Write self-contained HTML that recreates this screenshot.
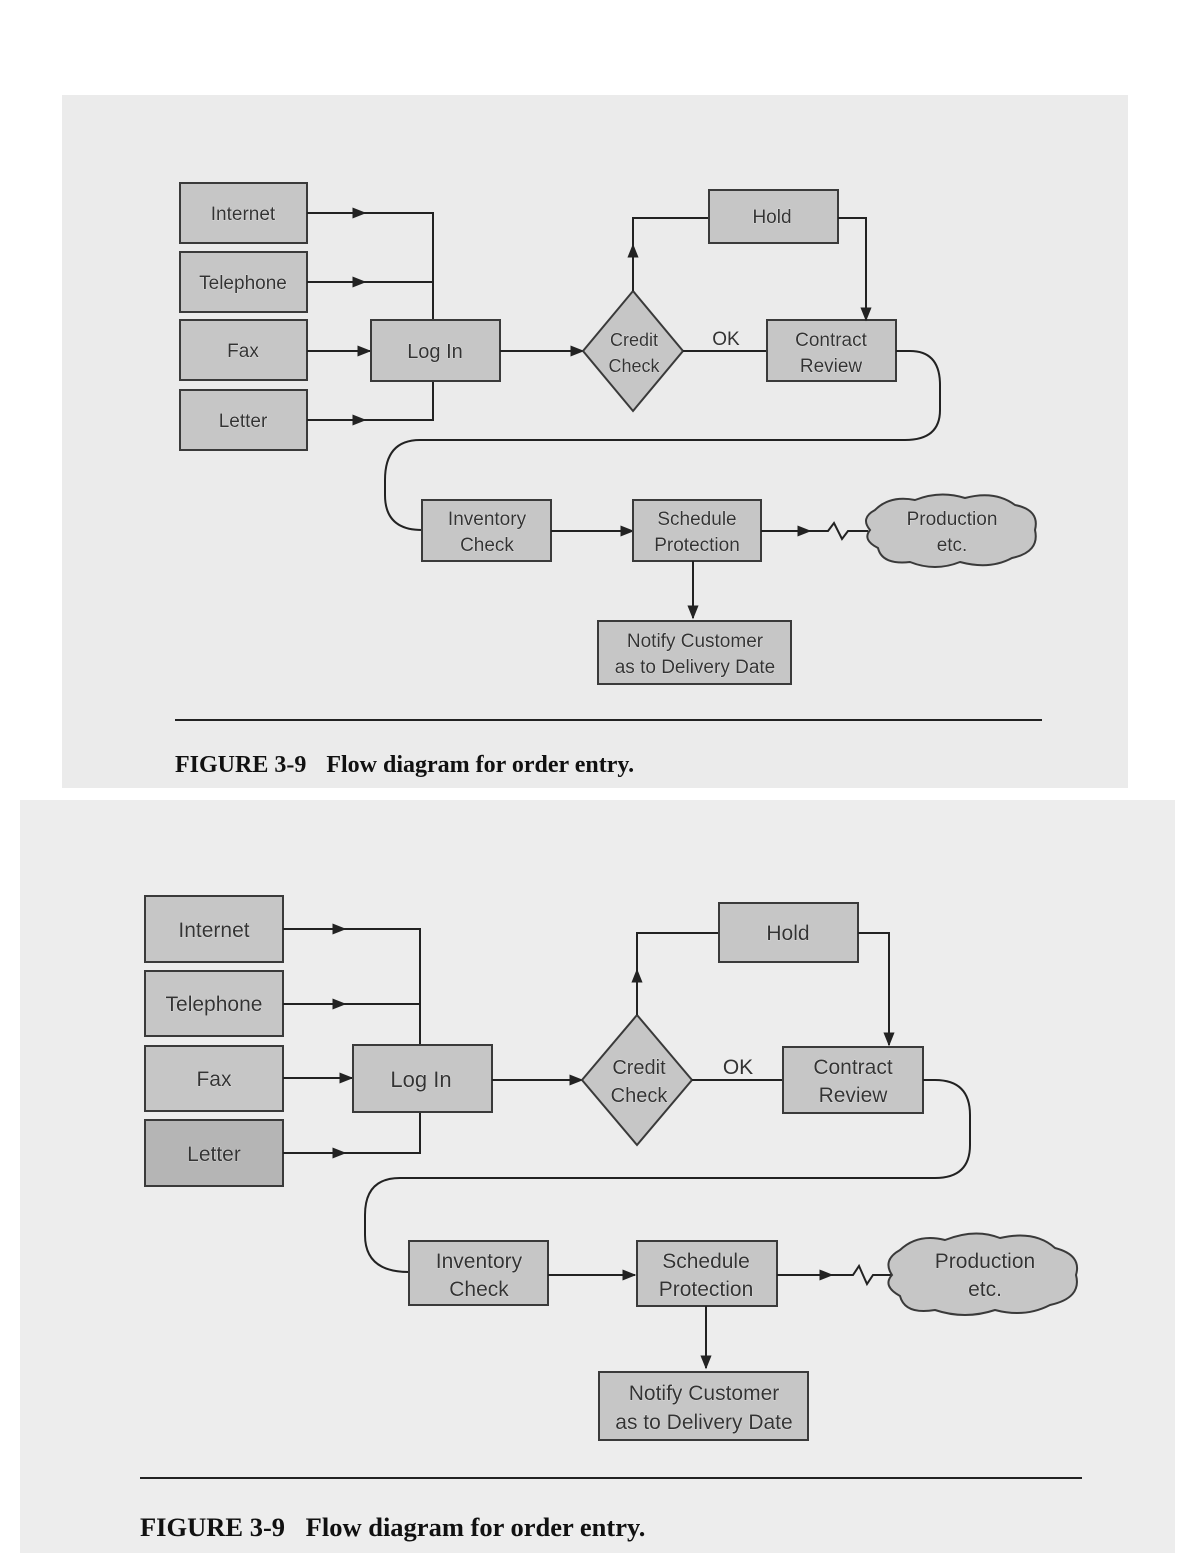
<!DOCTYPE html>
<html><head><meta charset="utf-8"><style>
html,body{margin:0;padding:0;background:#fff;}
svg{display:block;}
.b{fill:#c6c6c6;stroke:#3a3a3a;stroke-width:2;}
.t{font-family:"Liberation Sans",sans-serif;fill:#333;text-anchor:middle;stroke:#eee;stroke-width:0.6px;paint-order:stroke;}
.l{stroke:#222;stroke-width:2;fill:none;}
.cap{font-family:"Liberation Serif",serif;font-weight:bold;fill:#111;}
</style></head><body>
<svg width="1200" height="1553" viewBox="0 0 1200 1553">
<defs>
<marker id="a" viewBox="0 0 10 10" refX="9" refY="5" markerWidth="7" markerHeight="7" orient="auto"><path d="M0,1 L10,5 L0,9 z" fill="#222"/></marker>
</defs>
<rect x="0" y="0" width="1200" height="1553" fill="#fff"/>
<rect x="62" y="95" width="1066" height="693" fill="#ebebeb"/>
<rect x="20" y="800" width="1155" height="753" fill="#ededed"/>

<!-- TOP DIAGRAM -->
<g>
<rect class="b" x="180" y="183" width="127" height="60"/><text class="t" x="243" y="220" font-size="19">Internet</text>
<rect class="b" x="180" y="252" width="127" height="60"/><text class="t" x="243" y="289" font-size="19">Telephone</text>
<rect class="b" x="180" y="320" width="127" height="60"/><text class="t" x="243" y="357" font-size="19">Fax</text>
<rect class="b" x="180" y="390" width="127" height="60"/><text class="t" x="243" y="427" font-size="19">Letter</text>
<path class="l" d="M307 213H433V420H307 M307 282H433 M307 351H370" />
<path class="l" d="M307 213H365" marker-end="url(#a)"/><path class="l" d="M307 282H365" marker-end="url(#a)"/><path class="l" d="M307 351H370" marker-end="url(#a)"/><path class="l" d="M307 420H365" marker-end="url(#a)"/>
<rect class="b" x="371" y="320" width="129" height="61"/><text class="t" x="435" y="358" font-size="20">Log In</text>
<path class="l" d="M500 351H583" marker-end="url(#a)"/>
<polygon class="b" points="633,291 683,351 633,411 583,351"/>
<text class="t" x="634" y="346" font-size="18">Credit</text><text class="t" x="634" y="372" font-size="18">Check</text>
<path class="l" d="M683 351H767"/><text class="t" x="726" y="345" font-size="19">OK</text>
<rect class="b" x="767" y="320" width="129" height="61"/><text class="t" x="831" y="346" font-size="19">Contract</text><text class="t" x="831" y="372" font-size="19">Review</text>
<path class="l" d="M633 291V245" marker-end="url(#a)"/><path class="l" d="M633 250V218H709"/>
<rect class="b" x="709" y="190" width="129" height="53"/><text class="t" x="772" y="223" font-size="19">Hold</text>
<path class="l" d="M838 218H866V320" marker-end="url(#a)"/>
<path class="l" d="M896 351H910Q940 351 940 385V410Q940 440 905 440H420Q385 440 385 480V495Q385 530 422 530"/>
<rect class="b" x="422" y="500" width="129" height="61"/><text class="t" x="487" y="525" font-size="19">Inventory</text><text class="t" x="487" y="551" font-size="19">Check</text>
<path class="l" d="M551 531H633" marker-end="url(#a)"/>
<rect class="b" x="633" y="500" width="128" height="61"/><text class="t" x="697" y="525" font-size="19">Schedule</text><text class="t" x="697" y="551" font-size="19">Protection</text>
<path class="l" d="M761 531H828L834 523L842 539L848 531H868" />
<path class="l" d="M761 531H810" marker-end="url(#a)"/>
<path class="b" d="M875 510Q890 495 915 500Q940 490 965 498Q995 490 1015 505Q1040 510 1035 530Q1040 552 1012 558Q990 570 960 562Q935 572 910 562Q882 565 878 548Q862 540 870 530Q860 518 875 510Z"/>
<text class="t" x="952" y="525" font-size="19">Production</text><text class="t" x="952" y="551" font-size="19">etc.</text>
<path class="l" d="M693 561V618" marker-end="url(#a)"/>
<rect class="b" x="598" y="621" width="193" height="63"/><text class="t" x="695" y="647" font-size="19">Notify Customer</text><text class="t" x="695" y="673" font-size="19">as to Delivery Date</text>
<path d="M175 720H1042" stroke="#222" stroke-width="2"/>
<text class="cap" x="175" y="772" font-size="24">FIGURE 3-9 <tspan dx="14">Flow diagram for order entry.</tspan></text>
</g>

<!-- BOTTOM DIAGRAM -->
<g>
<rect class="b" x="145" y="896" width="138" height="66"/><text class="t" x="214" y="937" font-size="21">Internet</text>
<rect class="b" x="145" y="971" width="138" height="65"/><text class="t" x="214" y="1011" font-size="21">Telephone</text>
<rect class="b" x="145" y="1046" width="138" height="65"/><text class="t" x="214" y="1086" font-size="21">Fax</text>
<rect class="b" x="145" y="1120" width="138" height="66" style="fill:#b5b5b5"/><text class="t" x="214" y="1161" font-size="21">Letter</text>
<path class="l" d="M283 929H420V1153H283 M283 1004H420"/>
<path class="l" d="M283 929H345" marker-end="url(#a)"/><path class="l" d="M283 1004H345" marker-end="url(#a)"/><path class="l" d="M283 1078H352" marker-end="url(#a)"/><path class="l" d="M283 1153H345" marker-end="url(#a)"/>
<rect class="b" x="353" y="1045" width="139" height="67"/><text class="t" x="421" y="1087" font-size="22">Log In</text>
<path class="l" d="M492 1080H582" marker-end="url(#a)"/>
<polygon class="b" points="637,1015 692,1080 637,1145 582,1080"/>
<text class="t" x="639" y="1074" font-size="20">Credit</text><text class="t" x="639" y="1102" font-size="20">Check</text>
<path class="l" d="M692 1080H783"/><text class="t" x="738" y="1074" font-size="21">OK</text>
<rect class="b" x="783" y="1047" width="140" height="66"/><text class="t" x="853" y="1074" font-size="21">Contract</text><text class="t" x="853" y="1102" font-size="21">Review</text>
<path class="l" d="M637 1015V970" marker-end="url(#a)"/><path class="l" d="M637 975V933H719"/>
<rect class="b" x="719" y="903" width="139" height="59"/><text class="t" x="788" y="940" font-size="21">Hold</text>
<path class="l" d="M858 933H889V1045" marker-end="url(#a)"/>
<path class="l" d="M923 1080H935Q970 1080 970 1115V1145Q970 1178 935 1178H400Q365 1178 365 1215V1235Q365 1272 409 1272"/>
<rect class="b" x="409" y="1241" width="139" height="64"/><text class="t" x="479" y="1268" font-size="21">Inventory</text><text class="t" x="479" y="1296" font-size="21">Check</text>
<path class="l" d="M548 1275H635" marker-end="url(#a)"/>
<rect class="b" x="637" y="1241" width="140" height="65"/><text class="t" x="706" y="1268" font-size="21">Schedule</text><text class="t" x="706" y="1296" font-size="21">Protection</text>
<path class="l" d="M777 1275H853L859 1266L867 1284L873 1275H893"/>
<path class="l" d="M777 1275H832" marker-end="url(#a)"/>
<path class="b" d="M900 1250Q918 1233 945 1240Q975 1228 1000 1238Q1035 1230 1055 1248Q1082 1255 1076 1275Q1082 1298 1050 1305Q1025 1318 995 1310Q965 1320 935 1310Q905 1315 900 1296Q882 1286 892 1275Q882 1260 900 1250Z"/>
<text class="t" x="985" y="1268" font-size="21">Production</text><text class="t" x="985" y="1296" font-size="21">etc.</text>
<path class="l" d="M706 1306V1368" marker-end="url(#a)"/>
<rect class="b" x="599" y="1372" width="209" height="68"/><text class="t" x="704" y="1400" font-size="21">Notify Customer</text><text class="t" x="704" y="1429" font-size="21">as to Delivery Date</text>
<path d="M140 1478H1082" stroke="#222" stroke-width="2"/>
<text class="cap" x="140" y="1536" font-size="26.5">FIGURE 3-9 <tspan dx="14">Flow diagram for order entry.</tspan></text>
</g>
</svg>
</body></html>
